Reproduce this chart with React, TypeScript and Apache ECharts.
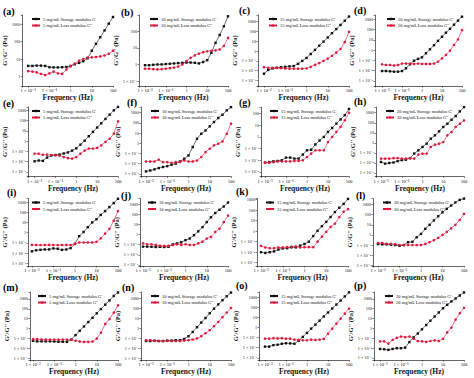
import React, { useEffect, useRef } from 'react';
import * as echarts from 'echarts';

// Frequencies (Hz), 5 points per decade
const FREQ = [0.01, 0.0158, 0.0251, 0.0398, 0.0631, 0.1, 0.158, 0.251, 0.398, 0.631, 1, 1.58, 2.51, 3.98, 6.31, 10, 15.8, 25.1, 39.8, 63.1, 100];

const PANEL_LABELS = ['(a)', '(b)', '(c)', '(d)', '(e)', '(f)', '(g)', '(h)', '(i)', '(j)', '(k)', '(l)', '(m)', '(n)', '(o)', '(p)'];
const CONCENTRATIONS = [5, 10, 15, 20, 5, 10, 15, 20, 5, 10, 15, 20, 5, 10, 15, 20];
const TICK_LABELS = ['1 × 10⁻³', '1 × 10⁻²', '1 × 10⁻¹', '1', '10', '100', '1000'];

// Storage modulus G' (Pa)
const gA = [4, 4, 4.2, 4.2, 4, 3.4, 3.3, 3.3, 3.4, 3.5, 4, 5, 6, 7.5, 11, 30, 75, 180, 440, 1070, 2600];
const gB = [0.9, 0.9, 0.95, 1, 1, 1.05, 1.1, 1.15, 1.2, 1.25, 1.3, 1.3, 1.25, 1.15, 1.4, 1.8, 5, 20, 60, 200, 800];
const gC = [0.005, 0.012, 0.017, 0.02, 0.023, 0.025, 0.028, 0.03, 0.05, 0.1, 0.2, 0.5, 1.3, 3.5, 9, 24, 65, 170, 450, 1200, 3200];
const gD = [0.0093, 0.0093, 0.0087, 0.008, 0.008, 0.0093, 0.017, 0.042, 0.093, 0.14, 0.2, 0.5, 1.2, 3, 8, 20, 50, 120, 300, 750, 1800];
const gE = [0.011, 0.013, 0.012, 0.025, 0.04, 0.045, 0.05, 0.063, 0.08, 0.12, 0.2, 0.45, 1.1, 3, 8, 21, 55, 145, 380, 1000, 2100];
const gF = [0.0017, 0.0021, 0.0027, 0.0036, 0.0046, 0.0056, 0.0078, 0.01, 0.016, 0.03, 0.063, 0.42, 2.75, 8.5, 18, 46, 120, 300, 630, 1700, 3500];
const gG = [0.0063, 0.007, 0.0081, 0.0087, 0.01, 0.017, 0.017, 0.014, 0.014, 0.031, 0.072, 0.08, 0.23, 0.5, 1, 2.7, 5.9, 14, 32, 75, 250];
const gH = [0.0126, 0.0085, 0.01, 0.011, 0.015, 0.019, 0.021, 0.03, 0.085, 0.18, 0.39, 0.83, 2.6, 5.6, 14, 38, 80, 200, 470, 1350, 3600];
const gI = [0.015, 0.019, 0.021, 0.023, 0.023, 0.029, 0.027, 0.021, 0.023, 0.031, 0.08, 0.46, 1.17, 3.5, 10, 21, 55, 130, 320, 800, 2100];
const gJ = [0.065, 0.065, 0.062, 0.06, 0.062, 0.06, 0.062, 0.107, 0.135, 0.17, 0.28, 0.41, 0.87, 2.1, 5.5, 17, 51, 135, 280, 590, 1450];
const gK = [0.01, 0.0085, 0.01, 0.012, 0.018, 0.023, 0.024, 0.029, 0.029, 0.042, 0.06, 0.1, 0.34, 1.07, 3, 7.6, 22, 65, 166, 390, 1150];
const gL = [0.126, 0.117, 0.117, 0.11, 0.1, 0.085, 0.1, 0.19, 0.21, 0.59, 1.26, 4, 10, 27, 70, 170, 380, 800, 1600, 2900, 3900];
const gM = [0.059, 0.052, 0.052, 0.052, 0.052, 0.05, 0.047, 0.047, 0.046, 0.08, 0.22, 0.6, 1.66, 4.6, 12.6, 35, 95, 263, 720, 2000, 4500];
const gN = [0.05, 0.05, 0.052, 0.05, 0.05, 0.055, 0.055, 0.06, 0.06, 0.08, 0.15, 0.4, 1.2, 3.5, 10, 30, 85, 230, 600, 1500, 3500];
const gO = [0.013, 0.013, 0.018, 0.02, 0.025, 0.028, 0.027, 0.025, 0.05, 0.12, 0.3, 0.8, 2, 5, 13, 32, 80, 200, 500, 1300, 3300];
const gP = [0.008, 0.0075, 0.0065, 0.008, 0.0095, 0.0095, 0.011, 0.04, 0.12, 0.3, 0.8, 2.2, 6, 16, 42, 110, 250, 550, 1100, 2200, 4500];

// Loss modulus G'' (Pa)
const lA = [2, 1.9, 1.7, 1.4, 1.2, 1.5, 1.9, 1.5, 1.4, 2.5, 3.9, 5.5, 8, 10, 12, 12.5, 13, 14, 16, 20, 30];
const lB = [0.55, 0.55, 0.52, 0.5, 0.52, 0.55, 0.6, 0.65, 0.75, 1, 1.6, 2.5, 3.5, 4.5, 5.5, 6.2, 6.6, 7, 8, 13, 40];
const lC = [0.023, 0.02, 0.02, 0.019, 0.018, 0.017, 0.016, 0.016, 0.016, 0.016, 0.017, 0.025, 0.04, 0.06, 0.1, 0.17, 0.33, 0.7, 1.6, 8, 90];
const lD = [0.042, 0.036, 0.036, 0.032, 0.036, 0.05, 0.05, 0.05, 0.045, 0.05, 0.045, 0.045, 0.045, 0.05, 0.075, 0.16, 0.34, 0.9, 3.2, 11, 90];
const lE = [0.06, 0.06, 0.048, 0.048, 0.045, 0.042, 0.04, 0.028, 0.022, 0.02, 0.028, 0.06, 0.12, 0.19, 0.19, 0.22, 0.39, 0.83, 1.7, 5.4, 85];
const lF = [0.016, 0.016, 0.016, 0.024, 0.014, 0.014, 0.012, 0.014, 0.014, 0.02, 0.016, 0.016, 0.02, 0.044, 0.135, 0.29, 0.62, 0.9, 1.5, 8.5, 83];
const lG = [0.0063, 0.0063, 0.007, 0.0081, 0.0081, 0.0081, 0.0081, 0.0087, 0.0087, 0.01, 0.019, 0.037, 0.072, 0.072, 0.072, 0.37, 1, 2.7, 7.2, 27, 120];
const lH = [0.027, 0.027, 0.027, 0.03, 0.03, 0.027, 0.027, 0.03, 0.027, 0.068, 0.085, 0.085, 0.39, 0.66, 0.83, 1.2, 5.6, 12, 38, 80, 170];
const lI = [0.063, 0.063, 0.062, 0.063, 0.064, 0.063, 0.062, 0.063, 0.063, 0.063, 0.08, 0.11, 0.11, 0.11, 0.11, 0.13, 0.28, 0.81, 2.4, 15, 130];
const lJ = [0.135, 0.11, 0.11, 0.095, 0.08, 0.076, 0.076, 0.095, 0.11, 0.095, 0.11, 0.095, 0.095, 0.135, 0.2, 0.41, 0.59, 1.8, 3.8, 17, 74];
const lK = [0.039, 0.028, 0.024, 0.024, 0.028, 0.028, 0.03, 0.033, 0.035, 0.028, 0.03, 0.03, 0.03, 0.1, 0.3, 0.87, 2.5, 5.2, 22, 70, 125];
const lL = [0.16, 0.16, 0.13, 0.13, 0.12, 0.1, 0.1, 0.1, 0.1, 0.1, 0.1, 0.13, 0.19, 0.3, 0.5, 1, 2, 4.5, 10, 30, 120];
const lM = [0.087, 0.087, 0.08, 0.077, 0.077, 0.077, 0.077, 0.077, 0.077, 0.077, 0.06, 0.05, 0.045, 0.045, 0.05, 0.1, 0.4, 3, 9.3, 41, 225];
const lN = [0.06, 0.06, 0.055, 0.05, 0.05, 0.05, 0.05, 0.05, 0.05, 0.055, 0.06, 0.07, 0.09, 0.15, 0.3, 0.6, 1.5, 4, 12, 35, 100];
const lO = [0.08, 0.08, 0.09, 0.085, 0.09, 0.08, 0.08, 0.065, 0.06, 0.055, 0.055, 0.065, 0.06, 0.065, 0.075, 0.25, 0.8, 2.5, 8, 25, 80];
const lP = [0.048, 0.048, 0.028, 0.069, 0.11, 0.148, 0.126, 0.148, 0.087, 0.051, 0.048, 0.042, 0.051, 0.06, 0.051, 0.087, 0.39, 1.2, 7.8, 35, 124];

const STORAGE = [gA, gB, gC, gD, gE, gF, gG, gH, gI, gJ, gK, gL, gM, gN, gO, gP];
const LOSS = [lA, lB, lC, lD, lE, lF, lG, lH, lI, lJ, lK, lL, lM, lN, lO, lP];

// Axis ranges (log10 exponents) per panel
const Y_MIN_EXP = [-0.55, -1.3, -3.55, -3.49, -3.44, -3.27, -3.39, -3.35, -3.26, -3.1, -3.31, -3.07, -3.17, -3.2, -3.22, -3.22];
const Y_MAX_EXP = [3.53, 2.98, 3.66, 3.42, 3.32, 3.56, 2.57, 3.57, 3.35, 3.56, 3.1, 3.6, 3.7, 3.6, 3.55, 3.7];

// Layout (pixels): y-axis line x, x of 0.01, x of 100
const AXIS_X = [21, 139, 258, 375, 20, 141, 261, 376, 23, 140, 257, 373, 30, 141, 259, 374];
const X01 = [27, 145, 264, 382, 27, 146, 265, 381, 27, 143, 261, 378, 33, 146, 265, 380];
const X100 = [113, 228, 349, 462, 118, 231, 349, 464, 118, 228, 348, 464, 118, 231, 349, 464];
const ROW_TOP = [15, 107, 198.5, 292];
const ROW_BOTTOM = [86, 176.5, 266, 360];
const LABEL_POS = [
  [3, 6], [121, 7], [239, 5], [354, 5],
  [3, 98], [127, 97], [239, 97], [354, 96],
  [7, 187], [121, 190], [236, 186], [356, 190],
  [3, 282], [122, 282], [236, 280], [354, 280],
];

const SERIF = '"Liberation Serif", "Times New Roman", "DejaVu Serif", serif';
const BLACK = '#111111';
const RED = '#e2173d';

function tickFormatter(v: number) {
  const e = Math.log10(v);
  const r = Math.round(e);
  if (Math.abs(e - r) > 0.02) return '';
  const idx = r + 3;
  return TICK_LABELS[idx] ?? '';
}

function buildOption() {
  const grid: any[] = [];
  const xAxis: any[] = [];
  const yAxis: any[] = [];
  const series: any[] = [];
  const legend: any[] = [];
  const title: any[] = [];

  for (let p = 0; p < 16; p++) {
    const row = Math.floor(p / 4);
    const top = ROW_TOP[row];
    const height = ROW_BOTTOM[row] - top;
    const left = AXIS_X[p];
    const width = X100[p] - left;
    const xMinExp = -2 - (4 * (X01[p] - left)) / (X100[p] - X01[p]);

    grid.push({ left, top, width, height, containLabel: false });

    xAxis.push({
      type: 'log',
      logBase: 10,
      gridIndex: p,
      min: Math.pow(10, xMinExp),
      max: 100,
      name: 'Frequency (Hz)',
      nameLocation: 'middle',
      nameGap: 6,
      nameTextStyle: { fontSize: 7.5, fontWeight: 'bold', fontFamily: SERIF, color: '#111' },
      axisLine: { lineStyle: { color: '#000', width: 0.6 } },
      axisTick: { length: 1.5, lineStyle: { color: '#000', width: 0.5 } },
      axisLabel: { fontSize: 4.5, margin: 2, color: '#111', fontFamily: SERIF, formatter: tickFormatter },
      splitLine: { show: false },
    });

    yAxis.push({
      type: 'log',
      logBase: 10,
      gridIndex: p,
      min: Math.pow(10, Y_MIN_EXP[p]),
      max: Math.pow(10, Y_MAX_EXP[p]),
      name: "G'/G'' (Pa)",
      nameLocation: 'middle',
      nameGap: 12,
      nameTextStyle: { fontSize: 6.5, fontWeight: 'bold', fontFamily: SERIF, color: '#111' },
      axisLine: { show: true, lineStyle: { color: '#000', width: 0.6 } },
      axisTick: { show: true, length: 1.5, lineStyle: { color: '#000', width: 0.5 } },
      axisLabel: { fontSize: 4.2, margin: 2, color: '#111', fontFamily: SERIF, formatter: tickFormatter },
      splitLine: { show: false },
    });

    const c = CONCENTRATIONS[p];
    const nameG = `${c} mg/mL Storage modulus G'`;
    const nameL = `${c} mg/mL Loss modulus G''`;

    series.push({
      type: 'line',
      name: nameG,
      xAxisIndex: p,
      yAxisIndex: p,
      data: FREQ.map((f, i) => [f, STORAGE[p][i]]),
      symbol: 'rect',
      symbolSize: 2.4,
      itemStyle: { color: BLACK },
      lineStyle: { color: BLACK, width: 0.6 },
      clip: false,
    });
    series.push({
      type: 'line',
      name: nameL,
      xAxisIndex: p,
      yAxisIndex: p,
      data: FREQ.map((f, i) => [f, LOSS[p][i]]),
      symbol: 'circle',
      symbolSize: 2.6,
      itemStyle: { color: RED },
      lineStyle: { color: RED, width: 0.6 },
      clip: false,
    });

    legend.push({
      data: [nameG, nameL],
      orient: 'vertical',
      left: X01[p] + 4,
      top: top + 1.5,
      padding: 0,
      itemGap: 1.5,
      itemWidth: 8,
      itemHeight: 3,
      textStyle: { fontSize: 4.5, fontFamily: SERIF, color: '#111', padding: [0, 0, 0, -2] },
    });

    title.push({
      text: PANEL_LABELS[p],
      left: LABEL_POS[p][0],
      top: LABEL_POS[p][1],
      padding: 0,
      textStyle: { fontSize: 10, fontWeight: 'bold', fontFamily: SERIF, color: '#000' },
    });
  }

  return {
    animation: false,
    backgroundColor: '#ffffff',
    title,
    legend,
    grid,
    xAxis,
    yAxis,
    series,
  };
}

export default function App() {
  const ref = useRef<HTMLDivElement>(null);
  useEffect(() => {
    document.body.style.margin = '0';
    if (!ref.current) return;
    const chart = echarts.init(ref.current, undefined, { renderer: 'svg' });
    chart.setOption(buildOption() as any);
    return () => chart.dispose();
  }, []);
  return <div ref={ref} style={{ width: 474, height: 378 }} />;
}
